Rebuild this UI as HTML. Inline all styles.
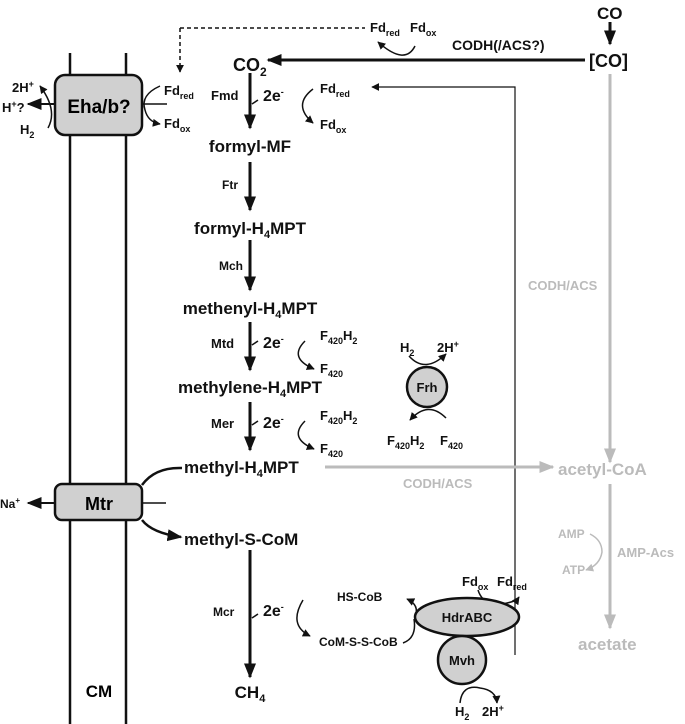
<!DOCTYPE html>
<html><head><meta charset="utf-8"><style>
html,body{margin:0;padding:0;background:#fff;}
svg{display:block;font-family:"Liberation Sans",sans-serif;font-weight:bold;}
</style></head><body>
<svg width="685" height="724" viewBox="0 0 685 724" xmlns="http://www.w3.org/2000/svg">
<defs>
<marker id="a" viewBox="0 0 10 10" refX="9" refY="5" markerWidth="8" markerHeight="8" markerUnits="userSpaceOnUse" orient="auto"><path d="M0,0L10,5L0,10z" fill="#111"/></marker>
<marker id="s" viewBox="0 0 10 10" refX="9" refY="5" markerWidth="15" markerHeight="15" markerUnits="userSpaceOnUse" orient="auto"><path d="M0,1L10,5L0,9z" fill="#111"/></marker>
<marker id="g" viewBox="0 0 10 10" refX="9" refY="5" markerWidth="8" markerHeight="8" markerUnits="userSpaceOnUse" orient="auto"><path d="M0,0L10,5L0,10z" fill="#bbb"/></marker>
<marker id="gs" viewBox="0 0 10 10" refX="9" refY="5" markerWidth="15" markerHeight="15" markerUnits="userSpaceOnUse" orient="auto"><path d="M0,1L10,5L0,9z" fill="#bbb"/></marker>
</defs>
<g stroke="#111" fill="none" stroke-width="2.5">
<line x1="70" y1="53" x2="70" y2="724"/><line x1="126" y1="53" x2="126" y2="724"/>
</g>
<rect x="55" y="75" width="87" height="60" rx="10" fill="#d0d0d0" stroke="#111" stroke-width="2.5"/>
<text x="99" y="113" font-size="19" text-anchor="middle">Eha/b?</text>
<rect x="55" y="484" width="87" height="36" rx="7" fill="#d0d0d0" stroke="#111" stroke-width="2.5"/>
<text x="99" y="510" font-size="18" text-anchor="middle">Mtr</text>
<text x="99" y="697" font-size="17" text-anchor="middle">CM</text>
<g stroke="#111" fill="none" stroke-width="1.5">
<line x1="55" y1="104" x2="28" y2="104" marker-end="url(#s)" stroke-width="2"/>
<path d="M48,128 Q58,110 40,86" marker-end="url(#a)"/>
<line x1="142" y1="104" x2="167" y2="104"/>
<path d="M160,86 Q140,95 145,110 Q148,122 160,124" marker-end="url(#a)"/>
<path d="M180,28 L365,28" stroke-dasharray="4,3"/>
<path d="M180,28 L180,72" stroke-dasharray="4,3" marker-end="url(#a)"/>
<path d="M415,46 Q405,66 378,42" marker-end="url(#a)"/>
<line x1="585" y1="60" x2="268" y2="60" stroke-width="3" marker-end="url(#s)"/>
<line x1="610" y1="22" x2="610" y2="44" stroke-width="3" marker-end="url(#s)"/>
<line x1="250" y1="73" x2="250" y2="128" stroke-width="3" marker-end="url(#s)"/>
<path d="M258,100 L252,104"/>
<path d="M313,89 Q292,105 313,123" marker-end="url(#a)"/>
<path d="M515,655 L515,87 L372,87" stroke-width="1.2" marker-end="url(#a)"/>
<line x1="250" y1="162" x2="250" y2="210" stroke-width="3" marker-end="url(#s)"/>
<line x1="250" y1="240" x2="250" y2="290" stroke-width="3" marker-end="url(#s)"/>
<line x1="250" y1="322" x2="250" y2="370" stroke-width="3" marker-end="url(#s)"/>
<path d="M258,341 L252,345"/>
<path d="M305,341 Q288,358 314,369" marker-end="url(#a)"/>
<line x1="250" y1="402" x2="250" y2="450" stroke-width="3" marker-end="url(#s)"/>
<path d="M258,421 L252,425"/>
<path d="M305,421 Q288,438 314,449" marker-end="url(#a)"/>
<path d="M409,356 Q425,374 446,354" marker-end="url(#a)"/>
<path d="M446,418 Q428,400 410,420" marker-end="url(#a)"/>
<line x1="55" y1="503" x2="28" y2="503" stroke-width="2" marker-end="url(#s)"/>
<line x1="142" y1="503" x2="166" y2="503"/>
<path d="M142,485 Q155,467 182,468" stroke-width="2.5"/>
<path d="M142,520 Q152,533 181,537" stroke-width="2.5" marker-end="url(#s)"/>
<line x1="250" y1="550" x2="250" y2="677" stroke-width="3" marker-end="url(#s)"/>
<path d="M258,614 L252,618"/>
<path d="M303,600 Q288,625 310,636" marker-end="url(#a)"/>
<path d="M415,617 Q420,605 407,599" marker-end="url(#a)"/>
<path d="M414,619 Q417,638 403,643"/>
<path d="M478,590 Q485,612 517,600 L519,597" marker-end="url(#a)"/>
<path d="M460,703 Q462,684 480,688 Q496,690 497,703" marker-end="url(#a)"/>
</g>
<g stroke="#bbb" fill="none" stroke-width="3">
<line x1="610" y1="74" x2="610" y2="462" marker-end="url(#gs)"/>
<line x1="325" y1="467" x2="553" y2="467" marker-end="url(#gs)"/>
<line x1="610" y1="484" x2="610" y2="628" marker-end="url(#gs)"/>
<path d="M590,534 Q602,540 602,552 Q600,565 586,570" stroke-width="1.5" marker-end="url(#g)"/>
</g>
<ellipse cx="467" cy="617" rx="52" ry="19" fill="#d0d0d0" stroke="#111" stroke-width="2.5"/>
<circle cx="462" cy="660" r="24" fill="#d0d0d0" stroke="#111" stroke-width="2.5"/>
<circle cx="427" cy="387" r="20" fill="#d0d0d0" stroke="#111" stroke-width="2.5"/>
<g font-size="13" fill="#111">
<text x="12" y="92">2H<tspan font-size="9" dy="-5">+</tspan></text>
<text x="2" y="112">H<tspan font-size="9" dy="-5">+</tspan><tspan dy="5">?</tspan></text>
<text x="20" y="134">H<tspan font-size="9" dy="4">2</tspan></text>
<text x="164" y="95">Fd<tspan font-size="9" dy="4">red</tspan></text>
<text x="164" y="128">Fd<tspan font-size="9" dy="4">ox</tspan></text>
<text x="370" y="32">Fd<tspan font-size="9" dy="4">red</tspan></text>
<text x="410" y="32">Fd<tspan font-size="9" dy="4">ox</tspan></text>
<text x="452" y="50" font-size="14">CODH(/ACS?)</text>
<text x="597" y="19" font-size="17">CO</text>
<text x="589" y="67" font-size="18">[CO]</text>
<text x="233" y="71" font-size="18">CO<tspan font-size="12" dy="5">2</tspan></text>
<text x="211" y="100">Fmd</text>
<text x="263" y="101" font-size="16">2e<tspan font-size="9" dy="-6">-</tspan></text>
<text x="320" y="93">Fd<tspan font-size="9" dy="4">red</tspan></text>
<text x="320" y="129">Fd<tspan font-size="9" dy="4">ox</tspan></text>
<text x="250" y="152" font-size="17" text-anchor="middle">formyl-MF</text>
<text x="222" y="189" font-size="12">Ftr</text>
<text x="250" y="234" font-size="17" text-anchor="middle">formyl-H<tspan font-size="11" dy="4">4</tspan><tspan dy="-4">MPT</tspan></text>
<text x="219" y="270" font-size="12">Mch</text>
<text x="250" y="314" font-size="17" text-anchor="middle">methenyl-H<tspan font-size="11" dy="4">4</tspan><tspan dy="-4">MPT</tspan></text>
<text x="211" y="348">Mtd</text>
<text x="263" y="348" font-size="16">2e<tspan font-size="9" dy="-6">-</tspan></text>
<text x="320" y="340">F<tspan font-size="9" dy="4">420</tspan><tspan dy="-4">H</tspan><tspan font-size="9" dy="4">2</tspan></text>
<text x="320" y="373">F<tspan font-size="9" dy="4">420</tspan></text>
<text x="250" y="393" font-size="17" text-anchor="middle">methylene-H<tspan font-size="11" dy="4">4</tspan><tspan dy="-4">MPT</tspan></text>
<text x="211" y="428">Mer</text>
<text x="263" y="428" font-size="16">2e<tspan font-size="9" dy="-6">-</tspan></text>
<text x="320" y="420">F<tspan font-size="9" dy="4">420</tspan><tspan dy="-4">H</tspan><tspan font-size="9" dy="4">2</tspan></text>
<text x="320" y="453">F<tspan font-size="9" dy="4">420</tspan></text>
<text x="427" y="392" text-anchor="middle">Frh</text>
<text x="400" y="352">H<tspan font-size="9" dy="4">2</tspan></text>
<text x="437" y="352">2H<tspan font-size="9" dy="-5">+</tspan></text>
<text x="387" y="445">F<tspan font-size="9" dy="4">420</tspan><tspan dy="-4">H</tspan><tspan font-size="9" dy="4">2</tspan></text>
<text x="440" y="445">F<tspan font-size="9" dy="4">420</tspan></text>
<text x="184" y="473" font-size="17">methyl-H<tspan font-size="11" dy="4">4</tspan><tspan dy="-4">MPT</tspan></text>
<text x="0" y="508" font-size="12">Na<tspan font-size="8" dy="-5">+</tspan></text>
<text x="184" y="545" font-size="17">methyl-S-CoM</text>
<text x="213" y="616" font-size="12">Mcr</text>
<text x="263" y="616" font-size="16">2e<tspan font-size="9" dy="-6">-</tspan></text>
<text x="337" y="601" font-size="12">HS-CoB</text>
<text x="319" y="646" font-size="12">CoM-S-S-CoB</text>
<text x="250" y="698" font-size="17" text-anchor="middle">CH<tspan font-size="11" dy="4">4</tspan></text>
<text x="467" y="622" text-anchor="middle">HdrABC</text>
<text x="462" y="665" text-anchor="middle">Mvh</text>
<text x="462" y="586">Fd<tspan font-size="9" dy="4">ox</tspan></text>
<text x="497" y="586">Fd<tspan font-size="9" dy="4">red</tspan></text>
<text x="455" y="716">H<tspan font-size="9" dy="4">2</tspan></text>
<text x="482" y="716">2H<tspan font-size="9" dy="-5">+</tspan></text>
</g>
<g fill="#bbb">
<text x="528" y="290" font-size="13">CODH/ACS</text>
<text x="403" y="488" font-size="13">CODH/ACS</text>
<text x="558" y="475" font-size="17">acetyl-CoA</text>
<text x="558" y="538" font-size="12">AMP</text>
<text x="617" y="557" font-size="13">AMP-Acs</text>
<text x="562" y="574" font-size="12">ATP</text>
<text x="578" y="650" font-size="17">acetate</text>
</g>
</svg>
</body></html>
